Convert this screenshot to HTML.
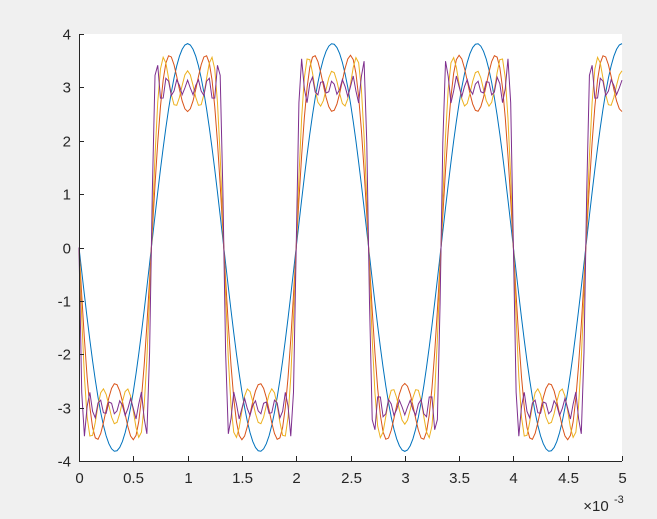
<!DOCTYPE html>
<html><head><meta charset="utf-8"><style>
body{margin:0;background:#f0f0f0;}
svg{display:block;font-family:"Liberation Sans",Arial,sans-serif;}
</style></head><body>
<svg id="chart" width="657" height="519" xmlns="http://www.w3.org/2000/svg">
<rect x="0" y="0" width="657" height="519" fill="#f0f0f0"/>
<rect x="79" y="34" width="543" height="427" fill="#ffffff"/>
<g id="series"></g>
<g id="axes"></g>
</svg>
<script>
// data
const xTicks = [0, 0.5, 1, 1.5, 2, 2.5, 3, 3.5, 4, 4.5, 5];
const yTicks = [-4, -3, -2, -1, 0, 1, 2, 3, 4];
const amplitude = [3];
const frequencyHz = [750];
const harmonicsBlue = [1];
const harmonicsRed = [1, 3];
const harmonicsYellow = [1, 3, 5];
const harmonicsPurple = [1, 3, 5, 7, 9, 11, 13];
const seriesColors = ["#0072bd", "#d95319", "#edb120", "#7e2f8e"];
const seriesNames = ["harmonics-1", "harmonics-3", "harmonics-5", "harmonics-13"];
const sampleCount = [201];

const X0=79, X1=622, Y0=461, Y1=34;
const xs = v => X0 + (v - 0) / 5 * (X1 - X0);
const ys = v => Y0 - (v + 4) / 8 * (Y0 - Y1);
const NS = "http://www.w3.org/2000/svg";
const sg = document.getElementById('series');
const ag = document.getElementById('axes');

[harmonicsBlue, harmonicsRed, harmonicsYellow, harmonicsPurple].forEach((h, i) => {
  let pts = [];
  const n = sampleCount[0];
  for (let k = 0; k < n; k++) {
    const t = k / (n - 1) * 5e-3;
    let v = 0;
    h.forEach(m => { v += -4 * amplitude[0] / Math.PI / m * Math.sin(2 * Math.PI * m * frequencyHz[0] * t); });
    pts.push(xs(t * 1000).toFixed(2) + "," + ys(v).toFixed(2));
  }
  const pl = document.createElementNS(NS, 'polyline');
  pl.setAttribute('points', pts.join(' '));
  pl.setAttribute('fill', 'none');
  pl.setAttribute('stroke', seriesColors[i]);
  pl.setAttribute('stroke-width', '1');
  
  
  sg.appendChild(pl);
});

function line(x1,y1,x2,y2,name){
  const l=document.createElementNS(NS,'line');
  l.setAttribute('x1',x1);l.setAttribute('y1',y1);l.setAttribute('x2',x2);l.setAttribute('y2',y2);
  l.setAttribute('stroke','#262626');l.setAttribute('stroke-width','1');
  
  
  ag.appendChild(l);
}
function text(x,y,s,anchor,size,name){
  const t=document.createElementNS(NS,'text');
  t.setAttribute('x',x);t.setAttribute('y',y);t.setAttribute('text-anchor',anchor);
  t.setAttribute('font-size',size);t.setAttribute('fill','#262626');
  t.textContent=s;
  
  
  ag.appendChild(t);
}
line(X0+0.5,Y1,X0+0.5,Y0+0.5,'y-axis-line');
line(X0,Y0+0.5,X1,Y0+0.5,'x-axis-line');
xTicks.forEach(v=>{
  const x=Math.round(xs(v))+0.5;
  line(x,Y0,x,Y0-5,'x-tick');
  text(x,Y0+22,String(v),'middle',15,'x-tick-label');
});
yTicks.forEach(v=>{
  const y=Math.round(ys(v))+0.5;
  line(X0,y,X0+5,y,'y-tick');
  text(X0-8,y+5,String(v),'end',15,'y-tick-label');
});
text(596,511,'×10','middle',15,'x-exponent-label');
text(614,503,'-3','start',11,'x-exponent-power');
</script>
</body></html>
